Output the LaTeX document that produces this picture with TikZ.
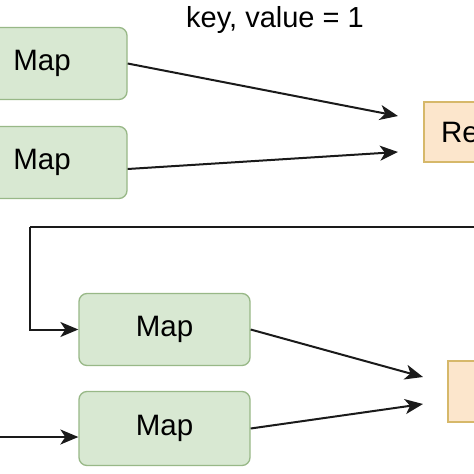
\documentclass[tikz,border=0pt]{standalone}
\usepackage{fontspec}
\setmainfont{Liberation Sans}
\usetikzlibrary{arrows.meta}
\definecolor{mapfill}{HTML}{D8E8D2}
\definecolor{mapdraw}{HTML}{98B887}
\definecolor{redfill}{HTML}{FCE6CC}
\definecolor{reddraw}{HTML}{D6B86A}
\definecolor{linecol}{HTML}{1A1A1A}
\tikzset{
  mapbox/.style={draw=mapdraw, fill=mapfill, line width=1.3pt, rounded corners=8pt,
    minimum width=170pt, minimum height=72pt, inner sep=0pt,
    font=\fontsize{29.5}{34}\selectfont},
  redbox/.style={draw=reddraw, fill=redfill, line width=1.3pt,
    minimum width=150pt, minimum height=61pt, inner sep=0pt,
    font=\fontsize{29.5}{34}\selectfont},
  conn/.style={draw=linecol, line width=2pt,
    -{Stealth[length=18pt, width=15pt, inset=5pt]}},
  plainline/.style={draw=linecol, line width=2pt}
}
\begin{document}
\begin{tikzpicture}[x=1pt, y=-1pt]
\useasboundingbox (0,0) rectangle (474,474);
\clip (0,0) rectangle (474,474);
\fill[white] (0,0) rectangle (474,474);

\node[font=\fontsize{29}{34}\selectfont, anchor=base] (lbl) at (275,27) {key, value = 1};

\node[mapbox] (map1) at (42,63.5) {Map};
\node[mapbox] (map2) at (42,162.5) {Map};
\node[mapbox, minimum width=171pt] (map3) at (164.5,329.5) {Map};
\node[mapbox, minimum width=171pt, minimum height=74pt] (map4) at (164.5,428.5) {Map};

\node[redbox, minimum height=60pt, text width=120pt, align=left] (red1) at (499,132) {\hspace*{2pt}Reduce};
\node[redbox] (red2) at (523,391.5) {};

\coordinate (t1) at (398,116);
\coordinate (t2) at (398,152);
\coordinate (t3) at (423,377);
\coordinate (t4) at (423,404);
\coordinate (lstart) at (490,227);
\coordinate (lcorner) at (30,227);
\coordinate (in4) at (-5,437);

\draw[conn] (map1.east) -- (t1);
\draw[conn] ([yshift=-6.5pt]map2.east) -- (t2);
\draw[conn] (map3.east) -- (t3);
\draw[conn] (map4.east) -- (t4);

\draw[plainline] (lstart) -- (lcorner);
\draw[conn] (lcorner) |- (map3.west);
\draw[conn] (in4) -- ([yshift=-8.5pt]map4.west);
\end{tikzpicture}
\end{document}
